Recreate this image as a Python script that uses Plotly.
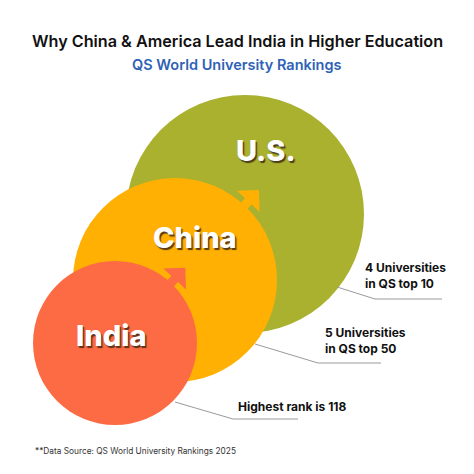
import numpy as np
import plotly.graph_objects as go

# ---- data ----
countries = ["U.S.", "China", "India"]
facts = ["4 Universities<br>in QS top 10", "5 Universities<br>in QS top 50", "Highest rank is 118"]
title_text = "Why China & America Lead India in Higher Education"
subtitle_text = "QS World University Rankings"
source_text = "**Data Source: QS World University Rankings 2025"

# ---- layout geometry (pixel space, y down) ----
centers = {"U.S.": (245, 214), "China": (175, 280), "India": (115, 343)}
radii = {"U.S.": 119, "China": 102, "India": 82}
colors = {"U.S.": "#a9b12f", "China": "#ffb002", "India": "#fd6b44"}
name_pos = {"U.S.": (266, 150), "China": (195, 237), "India": (111, 335)}
fact_text_pos = {"U.S.": (363, 275), "China": (323, 340), "India": (236, 406)}
leader = {
    "U.S.": [(337, 287), (375, 299), (442, 299)],
    "China": [(255, 344), (318, 363), (381, 363)],
    "India": [(175, 402), (233, 419), (298, 419)],
}
arrow_for = {"China": True, "India": True, "U.S.": False}
PAGE_OFFSET = 8  # page body margin

fig = go.Figure()
shapes = []
annotations = []


def arrow_path(cx, cy, r, color):
    ang = np.deg2rad(47)
    d = np.array([np.cos(ang), -np.sin(ang)])
    n = np.array([np.sin(ang), np.cos(ang)])
    c = np.array([cx, cy])
    tip = c + d * (r + 21)
    hb = 15.5
    base = tip - d * hb
    p1 = base + n * hb
    p2 = base - n * hb
    sw = 4.5
    s1 = base + n * sw
    s2 = base - n * sw
    s3 = c + d * (r - 6) - n * sw
    s4 = c + d * (r - 6) + n * sw
    pts = [tip, p1, s1, s4, s3, s2, p2]
    path = "M " + " L ".join(f"{p[0]:.2f},{p[1]:.2f}" for p in pts) + " Z"
    return dict(type="path", path=path, xref="x", yref="y",
                fillcolor=color, line=dict(width=0), layer="below")


for name in countries:
    cx, cy = centers[name]
    r = radii[name]
    shapes.append(dict(type="circle", xref="x", yref="y",
                       x0=cx - r, x1=cx + r, y0=cy - r, y1=cy + r,
                       fillcolor=colors[name], line=dict(width=0), layer="below"))
    if arrow_for[name]:
        shapes.append(arrow_path(cx, cy, r, colors[name]))

for name in countries:
    pts = leader[name]
    fig.add_trace(go.Scatter(x=[p[0] for p in pts], y=[p[1] for p in pts],
                             mode="lines", line=dict(color="#9a9a9a", width=1),
                             hoverinfo="skip", showlegend=False))

for name, fact in zip(countries, facts):
    x, y = name_pos[name]
    annotations.append(dict(x=x, y=y, xref="x", yref="y", text=name, showarrow=False,
                            font=dict(family="Inter", size=29, color="white", weight=800,
                                      shadow="1.5px 2px 1px rgba(60,40,20,0.85)"),
                            xanchor="center", yanchor="middle"))
    fx, fy = fact_text_pos[name]
    annotations.append(dict(x=fx, y=fy, xref="x", yref="y", text=fact, showarrow=False,
                            font=dict(family="Inter", size=12, color="#111111", weight=700),
                            xanchor="left", yanchor="middle", align="left"))

annotations.append(dict(x=237, y=41, xref="x", yref="y", text=title_text, showarrow=False,
                        font=dict(family="Inter", size=16.2, color="#111111", weight=600),
                        xanchor="center", yanchor="middle"))
annotations.append(dict(x=237, y=64, xref="x", yref="y", text=subtitle_text, showarrow=False,
                        font=dict(family="Inter", size=14.5, color="#2f62b6", weight=600),
                        xanchor="center", yanchor="middle"))
annotations.append(dict(x=33, y=451, xref="x", yref="y", text=source_text, showarrow=False,
                        font=dict(family="Inter", size=8.3, color="#333333"),
                        xanchor="left", yanchor="middle"))

fig.update_layout(
    width=474, height=474,
    margin=dict(l=0, r=0, t=0, b=0),
    paper_bgcolor="white", plot_bgcolor="white",
    xaxis=dict(range=[PAGE_OFFSET, 474 + PAGE_OFFSET], visible=False, fixedrange=True),
    yaxis=dict(range=[474 + PAGE_OFFSET, PAGE_OFFSET], visible=False, fixedrange=True),
    shapes=shapes, annotations=annotations, showlegend=False,
)
fig.write_html("out.html")
